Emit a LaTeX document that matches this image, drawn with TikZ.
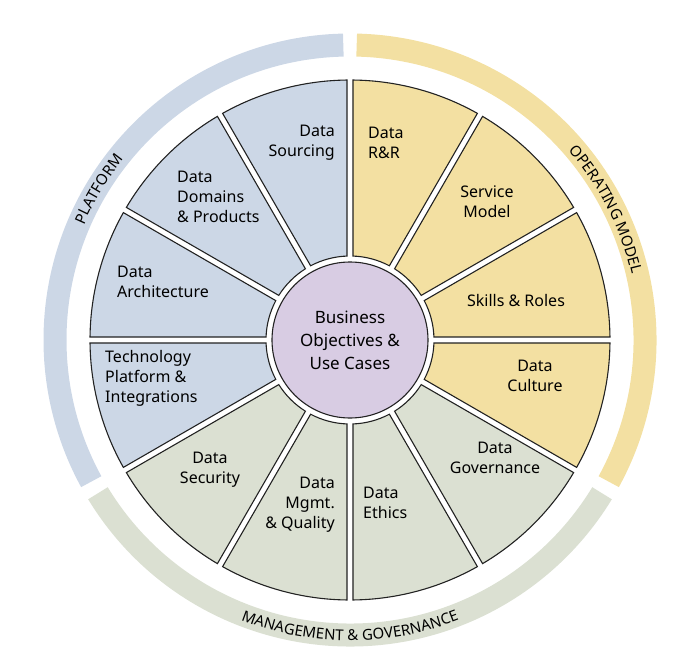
\documentclass[tikz,border=0pt]{standalone}
\usepackage{fontspec}
\setmainfont{Noto Sans}
\usetikzlibrary{decorations.text}
\definecolor{cb}{HTML}{CCD7E6}
\definecolor{cy}{HTML}{F3E0A2}
\definecolor{cg}{HTML}{DBE0D2}
\definecolor{cp}{HTML}{D8CCE3}
\definecolor{ln}{HTML}{222222}
\newcommand{\seg}[3]{%
 \fill[#3,draw=ln,line width=1.1pt] ({#1+2.05}:84) -- ({#1+0.66}:260) arc[start angle={#1+0.66},end angle={#2-0.66},radius=260] -- ({#2-2.05}:84) arc[start angle={#2-2.05},end angle={#1+2.05},radius=84] -- cycle;}
\tikzset{lab/.style={font=\fontsize{16}{20}\selectfont,inner sep=0pt},
 ring/.style={line width=23pt}}
\begin{document}
\begin{tikzpicture}[x=1pt,y=1pt]
\useasboundingbox (-350,-316) rectangle (338,340);
\draw[ring,cb] (91.3:295) arc[start angle=91.3,end angle=208.7,radius=295];
\draw[ring,cg] (211.3:295) arc[start angle=211.3,end angle=328.7,radius=295];
\draw[ring,cy] (-28.7:295) arc[start angle=-28.7,end angle=88.7,radius=295];
\path[decorate,decoration={text along path,text align=center,text={|\fontsize{15}{17}\selectfont|PLATFORM}}] (170:289.5) arc[start angle=170,end angle=128,radius=289.5];
\path[decorate,decoration={text along path,text align=center,text={|\fontsize{15}{17}\selectfont|OPERATING MODEL}}] (58:289.5) arc[start angle=58,end angle=-4,radius=289.5];
\path[decorate,decoration={text along path,text align=center,text={|\fontsize{15}{17}\selectfont|MANAGEMENT {\&} GOVERNANCE}}] (-128:300.5) arc[start angle=-128,end angle=-52,radius=300.5];
\seg{90}{120}{cb}\seg{120}{150}{cb}\seg{150}{180}{cb}\seg{180}{210}{cb}
\seg{60}{90}{cy}\seg{30}{60}{cy}\seg{0}{30}{cy}\seg{-30}{0}{cy}
\seg{-60}{-30}{cg}\seg{-90}{-60}{cg}\seg{-120}{-90}{cg}\seg{-150}{-120}{cg}
\node[circle,fill=cp,draw=ln,line width=1.1pt,minimum size=156pt,inner sep=0pt] (c) at (0,0) {};
\node[lab,align=center,font=\fontsize{17}{23}\selectfont] (ct) at (0,0) {Business\\Objectives \&\\Use Cases};
\node[lab,align=right,anchor=east] (s1) at (-15,197) {Data\\Sourcing};
\node[lab,align=left,anchor=west] (s2) at (18,197) {Data\\R\&R};
\node[lab,align=center] (s3) at (137,138) {Service\\Model};
\node[lab,align=center] (s4) at (166,40) {Skills \& Roles};
\node[lab,align=center] (s5) at (185,-36) {Data\\Culture};
\node[lab,align=center] (s6) at (145,-118) {Data\\Governance};
\node[lab,align=left,anchor=west] (s7) at (13,-163) {Data\\Ethics};
\node[lab,align=right,anchor=east] (s8) at (-15,-165) {Data\\Mgmt.\\\& Quality};
\node[lab,align=center] (s9) at (-140,-130) {Data\\Security};
\node[lab,align=left,anchor=west] (s10) at (-245,-38) {Technology\\Platform \&\\Integrations};
\node[lab,align=left,anchor=west] (s11) at (-233,58) {Data\\Architecture};
\node[lab,align=left,anchor=west] (s12) at (-173,143) {Data\\Domains\\\& Products};
\end{tikzpicture}
\end{document}
